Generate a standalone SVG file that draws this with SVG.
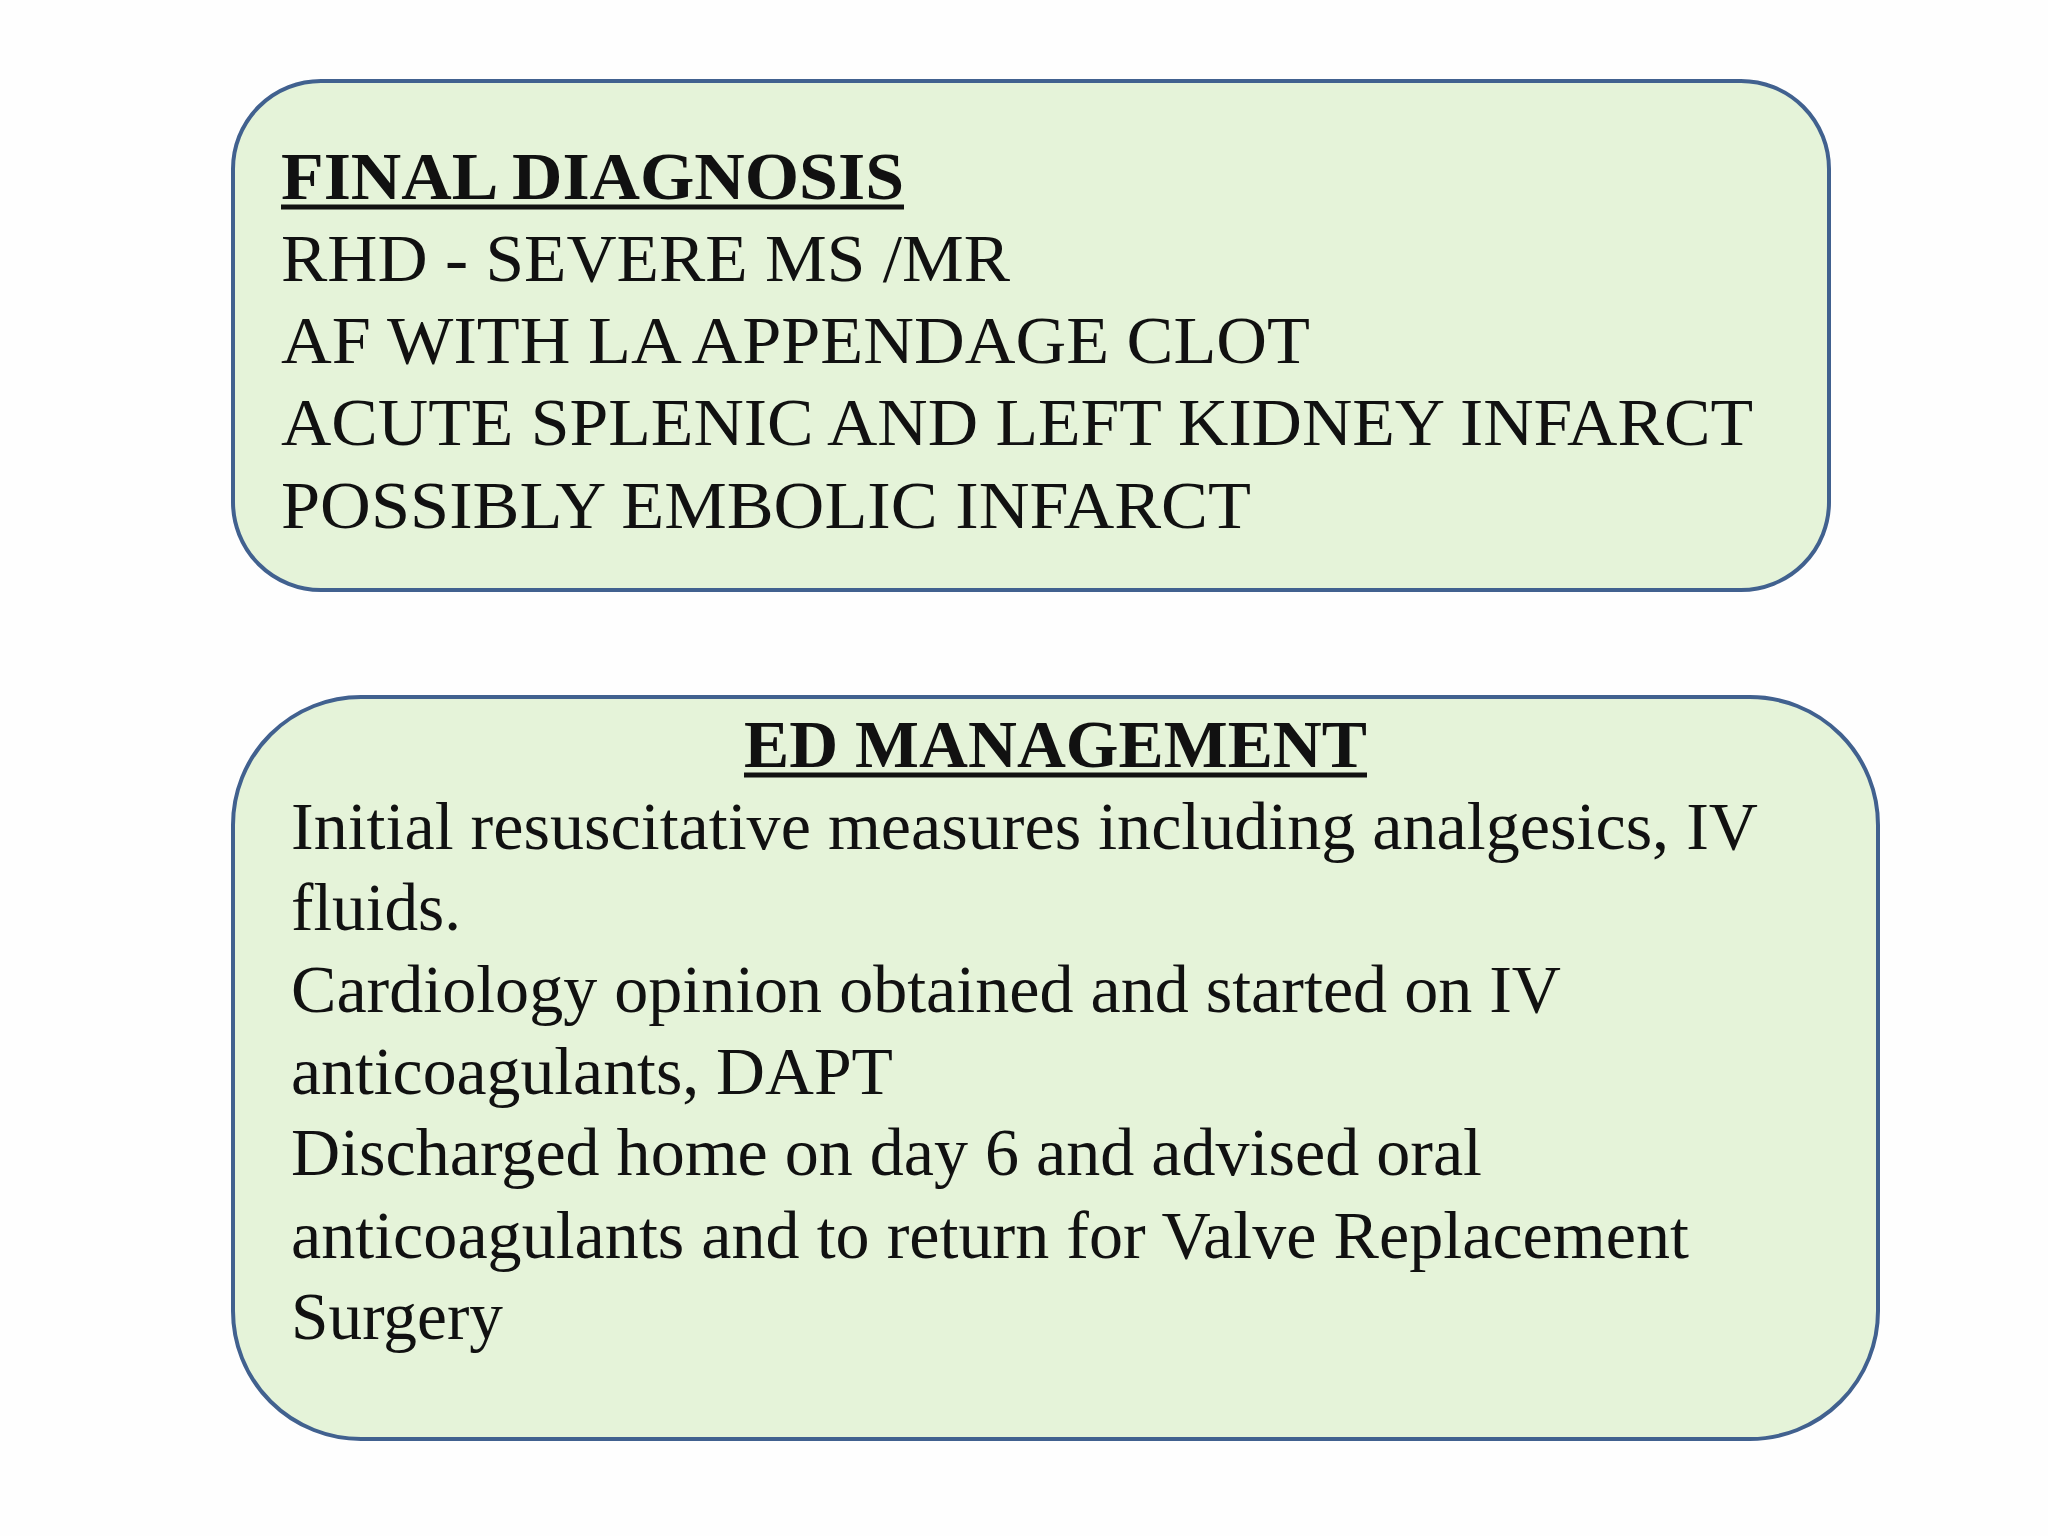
<svg xmlns="http://www.w3.org/2000/svg" width="2048" height="1536" viewBox="0 0 2048 1536">
<style>
.box{fill:#e5f3d9;stroke:#41618f;stroke-width:4}
.t{font-family:"Liberation Serif",serif;font-size:68px;fill:#111}
.b{font-weight:bold}
.u{stroke:#111;stroke-width:5}
</style>
<rect width="2048" height="1536" fill="#fefefe"/>
<g id="final-diagnosis">
<rect class="box" x="233" y="81" width="1596" height="509" rx="88"/>
<text class="t b" x="281" y="199" textLength="623" lengthAdjust="spacingAndGlyphs">FINAL  DIAGNOSIS</text>
<line class="u" x1="281" y1="207" x2="904" y2="207"/>
<text class="t" x="281" y="281" textLength="729" lengthAdjust="spacingAndGlyphs">RHD  - SEVERE MS /MR</text>
<text class="t" x="281" y="363" textLength="1029" lengthAdjust="spacingAndGlyphs">AF  WITH LA APPENDAGE  CLOT</text>
<text class="t" x="281" y="445" textLength="1472" lengthAdjust="spacingAndGlyphs">ACUTE  SPLENIC AND LEFT KIDNEY  INFARCT</text>
<text class="t" x="281" y="528" textLength="970" lengthAdjust="spacingAndGlyphs">POSSIBLY  EMBOLIC  INFARCT</text>
</g>
<g id="ed-management">
<rect class="box" x="233" y="697" width="1645" height="742" rx="128"/>
<text class="t b" x="744" y="767" textLength="623" lengthAdjust="spacingAndGlyphs">ED MANAGEMENT</text>
<line class="u" x1="744" y1="775" x2="1367" y2="775"/>
<text class="t" x="291" y="849" textLength="1467" lengthAdjust="spacingAndGlyphs">Initial resuscitative measures including analgesics, IV</text>
<text class="t" x="291" y="930" textLength="170" lengthAdjust="spacingAndGlyphs">fluids.</text>
<text class="t" x="291" y="1012" textLength="1270" lengthAdjust="spacingAndGlyphs">Cardiology opinion obtained and started on IV</text>
<text class="t" x="291" y="1094" textLength="602" lengthAdjust="spacingAndGlyphs">anticoagulants, DAPT</text>
<text class="t" x="291" y="1175" textLength="1191" lengthAdjust="spacingAndGlyphs">Discharged home on day 6 and advised oral</text>
<text class="t" x="291" y="1258" textLength="1398" lengthAdjust="spacingAndGlyphs">anticoagulants and to return for Valve Replacement</text>
<text class="t" x="291" y="1339" textLength="212" lengthAdjust="spacingAndGlyphs">Surgery</text>
</g>
</svg>
